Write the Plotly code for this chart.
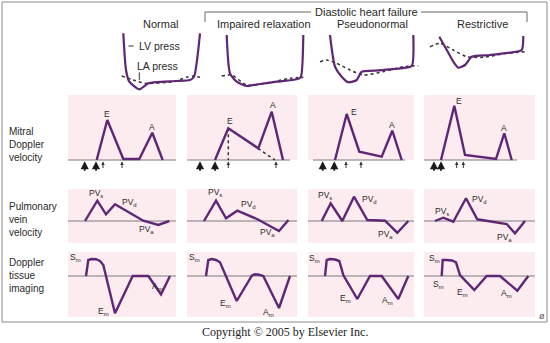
import plotly.graph_objects as go

# ---------------------------------------------------------------- data
conditions = ["Normal", "Impaired relaxation", "Pseudonormal", "Restrictive"]
group_title = "Diastolic heart failure"
row_labels = [["Mitral", "Doppler", "velocity"],
              ["Pulmonary", "vein", "velocity"],
              ["Doppler", "tissue", "imaging"]]

# LV / LA pressure (time units, pressure units)
lv_time = [
    [5.3, 8, 11.3, 21.3, 30.3, 38.7, 58.7, 72, 76, 82],
    [8.7, 12, 18.7, 28.7, 42, 58.7, 78.7, 82.7, 85.3],
    [14, 19, 25.7, 32.3, 40.7, 45.7, 57.3, 84, 95.7, 97.3],
    [13.3, 19, 27.3, 32.3, 39, 45.7, 64, 84, 95.7, 97.3],
]
lv_press = [
    [61.7, 25, 13.3, 5.7, 11.7, 13, 14, 15, 18.3, 61.7],
    [60, 21.7, 13.3, 9, 11, 13.3, 15.7, 17.7, 60],
    [60, 28.3, 18.3, 12.7, 15, 23.3, 24.3, 26.7, 29, 60],
    [58.3, 48.3, 33.3, 27.3, 30, 38.3, 40, 42.3, 45, 59],
]
la_time = [
    [3.7, 15.3, 27, 55.3, 68.7, 75.3, 82],
    [3.7, 13.7, 28.7, 55.3, 72, 85.3],
    [4, 10.7, 20.7, 34, 47.3, 67.3, 87.3, 102.3],
    [4, 14, 27.3, 40.7, 57.3, 80.7, 99],
]
la_press = [
    [19, 15, 11.7, 13.3, 17.7, 19, 17.7],
    [19, 20, 10, 13.3, 16.7, 17.7],
    [33.3, 35, 31.7, 25, 20, 23.3, 28.3, 29.3],
    [48.3, 51.7, 45, 38.3, 37.7, 41.7, 43.3],
]

# Mitral Doppler velocity
mitral_time = [
    [28.7, 39.3, 55.3, 71.3, 84.3, 94.7],
    [28, 41.3, 71.3, 84.7, 96],
    [27, 38.7, 51.3, 73.7, 84.3, 93.7],
    [17, 30.3, 41, 72, 80.3, 87.7],
]
mitral_vel = [
    [0, 40, 1, 1, 27.3, 0],
    [0, 31.7, 11.7, 48.3, 0],
    [0, 46, 8.3, 3.3, 29.3, 0],
    [0, 54.3, 5, 1, 26.7, 0],
]
mitral_e_idx = [1, 1, 1, 1]
mitral_a_idx = [4, 3, 4, 4]
big_arrow_time = [[16.7, 28], [13, 28], [14.7, 26.3], [10, 17]]
small_arrow_time = [[35, 54], [41.3, 89], [38, 53], [32.7, 39.3]]
decel_end_time = 88.0

# Pulmonary vein velocity
pv_time = [
    [17, 29.3, 38, 47, 75.3, 90.3, 101.3],
    [17, 29, 39, 50.3, 71, 92, 101.5],
    [13.7, 22.7, 34.3, 46, 59.3, 77, 89.3, 100.3],
    [11, 19.3, 29.3, 42, 53.3, 69.3, 82.7, 91, 101],
]
pv_vel = [
    [0, 20.3, 6.7, 16.7, 0.3, -4, 0],
    [0, 20.3, 2.7, 10.3, 1.5, -10, 1],
    [0, 17.7, 0, 24.3, 1, 0.3, -11.7, 0],
    [0, 3.3, -0.7, 22.7, 1.7, -0.7, -3, -12.3, 0],
]
pv_s_idx = [1, 1, 1, 1]
pv_d_idx = [3, 3, 3, 3]
pv_a_idx = [5, 5, 6, 7]

# Doppler tissue imaging
dti_time = [
    [18, 20.3, 23.7, 28, 32, 35.3, 47, 64.7, 80.3, 93, 102],
    [19, 21.3, 24.7, 29, 33, 49.7, 65, 68, 72, 76.3, 92, 103],
    [17, 18.7, 22, 27, 31.3, 35.3, 49.3, 62, 73.7, 90.3, 100.3],
    [17.7, 18.7, 22.7, 28, 32, 36, 50.3, 62.7, 76, 93.3, 104.3],
]
dti_vel = [
    [0, 16, 17, 16.8, 15, 11, -37.3, 0, 0, -18.3, 0],
    [0, 16, 17, 16, 13.7, -25, 0.5, 1.7, 1.3, 0, -32, 0],
    [0, 16, 17, 16.5, 15, 1, -23, 0, 0, -23, 0],
    [0, 16, 16, 15.5, 13.7, 1, -14, 0, 0, -14.7, 0],
]
dti_sm_idx = [1, 1, 1, 1]
dti_em_idx = [6, 5, 6, 6]
dti_am_idx = [9, 10, 9, 9]

# ---------------------------------------------------------------- layout constants
FW, FH = 550, 343
FONT = "Liberation Sans, Arial, Helvetica, sans-serif"
PURPLE = "#5f2675"
PINK = "#fcecef"
TXT = "#2a2a2a"
GRAY = "#7a7a7a"

COL_LEFT = [68, 187, 308, 424]
COL_W = [108, 110, 106, 111]
PRESS_LEFT = [118, 218, 316, 426]
PRESS_W = 105
# row: (py_top, py_bottom, y_hi)
ROWS = [(28, 96, 67), (93, 163, 67), (189, 243, 32), (252, 317, 24)]
MITRAL_BASE = [(0, 108), (0, 103), (5, 97), (-6, 93)]


def px(x):
    return x / FW


def py(y):
    return 1 - y / FH


fig = go.Figure()
layout = {}
shapes = []
anns = []


def axname(idx):
    return "" if idx == 1 else str(idx)


def add_axes(idx, left, width, row):
    top, bot, yhi = ROWS[row]
    n = axname(idx)
    layout["xaxis" + n] = dict(domain=[px(left), px(left + width)], range=[0, width],
                               visible=False, fixedrange=True, anchor="y" + n)
    layout["yaxis" + n] = dict(domain=[py(bot), py(top)], range=[yhi - (bot - top), yhi],
                               visible=False, fixedrange=True, anchor="x" + n)
    return "x" + n, "y" + n


def label(xr, yr, x, y, text, dx=0, dy=0, size=8):
    anns.append(dict(xref=xr, yref=yr, x=x, y=y, text=text, showarrow=False,
                     xshift=dx, yshift=dy, xanchor="center", yanchor="middle",
                     font=dict(size=size, color=TXT, family=FONT)))


def line(xr, yr, xs, ys, color=PURPLE, width=2.4, dash="solid", shape="linear"):
    fig.add_trace(go.Scatter(x=xs, y=ys, xaxis=xr, yaxis=yr, mode="lines",
                             line=dict(color=color, width=width, dash=dash, shape=shape,
                                       smoothing=0.6),
                             hoverinfo="skip", showlegend=False))


for c in range(4):
    # ---- pressure row
    xr, yr = add_axes(1 + c, PRESS_LEFT[c], PRESS_W, 0)
    line(xr, yr, la_time[c], la_press[c], color="#333333", width=1.5, dash="dot", shape="spline")
    line(xr, yr, lv_time[c], lv_press[c], width=2.2, shape="spline")
    if c == 0:
        shapes.append(dict(type="line", xref=xr, yref=yr, x0=10.5, x1=15.5, y0=49, y1=49,
                           line=dict(color="#333", width=1)))
        anns.append(dict(xref=xr, yref=yr, x=18.5, y=49, text="LV press", showarrow=False,
                         xanchor="left", yanchor="middle",
                         font=dict(size=10.5, color=TXT, family=FONT)))
        shapes.append(dict(type="line", xref=xr, yref=yr, x0=21.3, x1=21.3, y0=22.5, y1=15,
                           line=dict(color="#333", width=1)))
        anns.append(dict(xref=xr, yref=yr, x=16.5, y=29.5, text="LA press", showarrow=False,
                         xanchor="left", yanchor="middle",
                         font=dict(size=10.5, color=TXT, family=FONT)))

    # ---- mitral row
    xr, yr = add_axes(5 + c, COL_LEFT[c], COL_W[c], 1)
    n = axname(5 + c)
    shapes.append(dict(type="rect", xref="x" + n + " domain", yref=yr, x0=0, x1=1, y0=0,
                       y1=65, fillcolor=PINK, line=dict(width=0), layer="below"))
    b0, b1 = MITRAL_BASE[c]
    shapes.append(dict(type="line", xref=xr, yref=yr, x0=b0, x1=b1, y0=0, y1=0,
                       line=dict(color=GRAY, width=1.2), layer="below"))
    if c == 1:
        ei = mitral_e_idx[c]
        line(xr, yr, [mitral_time[c][ei], mitral_time[c][ei]], [mitral_vel[c][ei], 0],
             color="#333", width=1.5, dash="dot")
        line(xr, yr, [mitral_time[c][ei], decel_end_time], [mitral_vel[c][ei], 0],
             color="#333", width=1.5, dash="dot")
    line(xr, yr, mitral_time[c], mitral_vel[c])
    e_off = [(0, 6), (2, 7), (7, 2), (5, 5)][c]
    a_off = [(0, 6), (1, 7), (0, 6), (0, 5)][c]
    ei, ai = mitral_e_idx[c], mitral_a_idx[c]
    label(xr, yr, mitral_time[c][ei], mitral_vel[c][ei], "E", e_off[0], e_off[1], 8.5)
    label(xr, yr, mitral_time[c][ai], mitral_vel[c][ai], "A", a_off[0], a_off[1], 8.5)
    for t in big_arrow_time[c]:
        anns.append(dict(xref=xr, yref=yr, x=t, y=-1.2, ax=0, ay=11, text="",
                         showarrow=True, arrowhead=2, arrowsize=0.9, arrowwidth=1.8,
                         arrowcolor="#1a1a1a", standoff=0))
    for t in small_arrow_time[c]:
        anns.append(dict(xref=xr, yref=yr, x=t, y=-1.5, ax=0, ay=8, text="",
                         showarrow=True, arrowhead=2, arrowsize=0.7, arrowwidth=1,
                         arrowcolor="#333", standoff=0))
    if c == 1:
        label(xr, yr, big_arrow_time[c][0], -12, "IVRT", 0, 0, 8.5)
        label(xr, yr, 60, -6, "Dec.", 0, 0, 8.5)
        label(xr, yr, 60, -14, "time", 0, 0, 8.5)

    # ---- pulmonary vein row
    xr, yr = add_axes(9 + c, COL_LEFT[c], COL_W[c], 2)
    n = axname(9 + c)
    shapes.append(dict(type="rect", xref="x" + n + " domain", yref="y" + n + " domain",
                       x0=0, x1=1, y0=0, y1=1, fillcolor=PINK, line=dict(width=0),
                       layer="below"))
    shapes.append(dict(type="line", xref="x" + n + " domain", yref=yr, x0=0, x1=1, y0=0,
                       y1=0, line=dict(color=GRAY, width=1), layer="below"))
    line(xr, yr, pv_time[c], pv_vel[c])
    s_off = [(-1, 7), (-1, 8), (-6, 8), (-1, 6)][c]
    d_off = [(14, 2), (11, 6), (15, -3), (13, -1)][c]
    a_off = [(-12, -5), (-12, -2), (-12, -2), (-11, -4)][c]
    for idx, txt, off in ((pv_s_idx[c], "PV<sub>s</sub>", s_off),
                          (pv_d_idx[c], "PV<sub>d</sub>", d_off),
                          (pv_a_idx[c], "PV<sub>a</sub>", a_off)):
        label(xr, yr, pv_time[c][idx], pv_vel[c][idx], txt, off[0], off[1], 8.5)

    # ---- DTI row
    xr, yr = add_axes(13 + c, COL_LEFT[c], COL_W[c], 3)
    n = axname(13 + c)
    shapes.append(dict(type="rect", xref="x" + n + " domain", yref="y" + n + " domain",
                       x0=0, x1=1, y0=0, y1=1, fillcolor=PINK, line=dict(width=0),
                       layer="below"))
    shapes.append(dict(type="line", xref="x" + n + " domain", yref=yr, x0=0, x1=1, y0=0,
                       y1=0, line=dict(color=GRAY, width=1), layer="below"))
    line(xr, yr, dti_time[c], dti_vel[c])
    sm_off = [(-13, 3), (-14, 3), (-12, 2), (-8, 2)][c]
    em_off = [(-12, 2), (-11, -2), (-12, 1), (-12, -2)][c]
    am_off = [(-4, 8), (-11, -4), (-11, -1), (-11, -3)][c]
    for idx, txt, off in ((dti_sm_idx[c], "S<sub>m</sub>", sm_off),
                          (dti_em_idx[c], "E<sub>m</sub>", em_off),
                          (dti_am_idx[c], "A<sub>m</sub>", am_off)):
        label(xr, yr, dti_time[c][idx], dti_vel[c][idx], txt, off[0], off[1], 8.5)
    if c == 3:
        label(xr, yr, dti_time[c][0], dti_vel[c][0], "S<sub>m</sub>", -3, -8, 8.5)

# ---------------------------------------------------------------- paper text
TITLE_X = [160, 264, 372, 482]
for c, name in enumerate(conditions):
    anns.append(dict(xref="paper", yref="paper", x=px(TITLE_X[c]), y=py(24), text=name,
                     showarrow=False, xanchor="center", yanchor="middle",
                     font=dict(size=11, color=TXT, family=FONT)))

# bracket
for x0, y0, x1, y1 in ((205, 12, 311, 12), (421, 12, 527, 12), (205, 12, 205, 22),
                       (527, 12, 527, 22)):
    shapes.append(dict(type="line", xref="paper", yref="paper", x0=px(x0), y0=py(y0),
                       x1=px(x1), y1=py(y1), line=dict(color="#666", width=1)))
anns.append(dict(xref="paper", yref="paper", x=px(366), y=py(12), text=group_title,
                 showarrow=False, xanchor="center", yanchor="middle",
                 font=dict(size=11, color=TXT, family=FONT)))

ROW_LABEL_Y = [144.5, 219.5, 275.7]
for r, lines in enumerate(row_labels):
    anns.append(dict(xref="paper", yref="paper", x=px(7), y=py(ROW_LABEL_Y[r]),
                     text="<br>".join(lines), showarrow=False, xanchor="left",
                     yanchor="middle", align="left",
                     font=dict(size=10, color=TXT, family=FONT)))

anns.append(dict(xref="paper", yref="paper", x=px(285), y=py(332),
                 text="Copyright © 2005 by Elsevier Inc.", showarrow=False,
                 xanchor="center", yanchor="middle",
                 font=dict(size=12, color="#222", family="Liberation Serif, Times New Roman, serif")))
anns.append(dict(xref="paper", yref="paper", x=px(542), y=py(316), text="ø",
                 showarrow=False, xanchor="center", yanchor="middle",
                 font=dict(size=9, color="#555", family=FONT)))

# outer frame
shapes.append(dict(type="rect", xref="paper", yref="paper", x0=px(2), x1=px(547),
                   y0=py(322), y1=py(2), line=dict(color="#8a8a8a", width=1),
                   fillcolor="rgba(0,0,0,0)"))

fig.update_layout(
    width=FW, height=FH, margin=dict(l=0, r=0, t=0, b=0),
    paper_bgcolor="white", plot_bgcolor="rgba(0,0,0,0)",
    showlegend=False, shapes=shapes, annotations=anns, **layout,
)
fig.write_html("out.html", config={"displayModeBar": False})
